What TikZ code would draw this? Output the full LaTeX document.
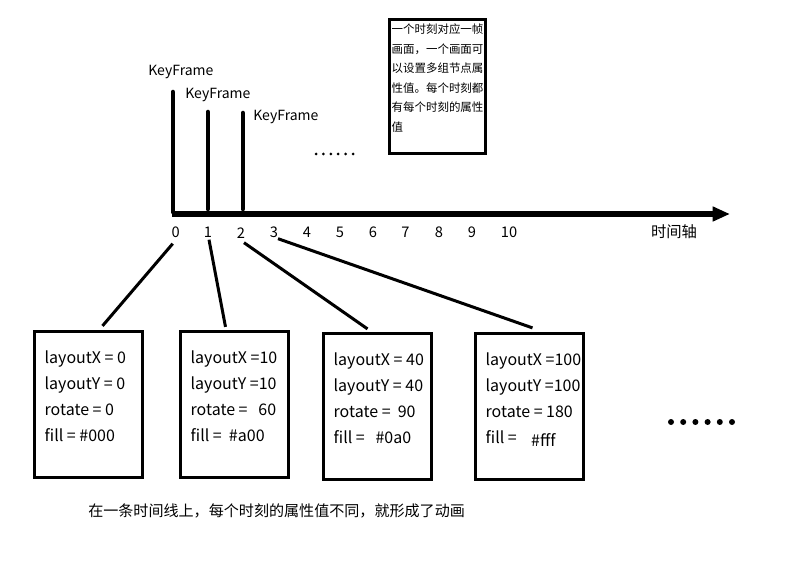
\documentclass[tikz,border=0pt]{standalone}
\usepackage{fontspec}
\setmainfont{Noto Sans CJK SC}
\usetikzlibrary{arrows.meta,positioning,calc}

\begin{document}
\begin{tikzpicture}[x=0.75pt,y=-0.75pt,
    kbox/.style={draw, line width=2.4pt, minimum width=81pt, minimum height=109.5pt},
    kval/.style={align=left, inner sep=0pt, font=\fontsize{12}{19.5}\selectfont},
    kbar/.style={line width=3.4pt, line cap=round},
    klabel/.style={anchor=west, inner sep=0pt, font=\fontsize{10.5}{12}\selectfont},
    tick/.style={inner sep=1pt, font=\fontsize{11}{13}\selectfont},
    link/.style={line width=2.25pt}]
    \useasboundingbox (0,0) rectangle (810,566);

    % time axis
    \coordinate (o) at (172,214);
    \coordinate (tip) at (730,214);
    \draw[line width=3.9pt, -{Triangle[length=13pt,width=10.5pt]}] (o) -- (tip);
    \node[tick, font=\fontsize{11.5}{13}\selectfont] (axis) at (674,232) {时间轴};
    \foreach \i/\x in {0/175.7,1/208,2/241,3/274,4/307,5/340,6/373,7/405.5,8/439,9/472,10/509}
        \node[tick] (t\i) at (\x,232.7) {\i};

    % key frames
    \coordinate (k0) at (173,212);
    \coordinate (k1) at (208,209);
    \coordinate (k2) at (243,209);
    \draw[kbar] (k0) -- ++(0,-120);
    \draw[kbar] (k1) -- ++(0,-97);
    \draw[kbar] (k2) -- ++(0,-96);
    \node[klabel] (kf0) at (148,72) {KeyFrame};
    \node[klabel] (kf1) at (185,95) {KeyFrame};
    \node[klabel] (kf2) at (253,117) {KeyFrame};
    \foreach \i in {0,...,5}
        \fill (316+7.4*\i,154) circle (1.5);

    % note
    \node[draw, line width=2.4pt, minimum width=72pt, minimum height=100.5pt] (note) at (437.5,86.5) {};
    \node[anchor=north west, inner sep=0pt, align=left, font=\fontsize{8.6}{14.6}\selectfont]
        (notetext) at ($(note.north west)+(3.5,6)$)
        {一个时刻对应一帧\\画面，一个画面可\\以设置多组节点属\\性值。每个时刻都\\有每个时刻的属性\\值};

    % frame values
    \node[kbox] (b0) at (88.5,404.5) {};
    \node[kbox] (b1) at (234.5,404.5) {};
    \node[kbox] (b2) at (377.5,406.5) {};
    \node[kbox] (b3) at (529.5,406.5) {};
    \node[kval, anchor=north west] (v0) at ($(b0.north west)+(11.5,21)$)
        {layoutX = 0\\layoutY = 0\\rotate = 0\\fill = \#000};
    \node[kval, anchor=north west] (v1) at ($(b1.north west)+(11.5,21)$)
        {layoutX =10\\layoutY =10\\rotate = \ \ 60\\fill = \ \#a00};
    \node[kval, anchor=north west] (v2) at ($(b2.north west)+(11.5,21)$)
        {layoutX = 40\\layoutY = 40\\rotate = \ 90\\fill = \ \ \#0a0};
    \node[kval, anchor=north west] (v3) at ($(b3.north west)+(11.5,21)$)
        {layoutX =100\\layoutY =100\\rotate = 180\\fill = \ \ \ \raisebox{-2pt}{\#fff}};
    \foreach \i in {0,...,5}
        \fill (671+12.2*\i,422) circle (3);

    % links
    \draw[link] ($(t0)+(-3,11)$) -- ($(b0.north)+(14,-4)$);
    \draw[link] ($(t1)+(1,7)$) -- ($(b1.north)+(-9,-3)$);
    \draw[link] ($(t2)+(3,10)$) -- ($(b2.north)+(-10,-3)$);
    \draw[link] ($(t3)+(4,6)$) -- ($(b3.north)+(3,-4)$);

    \node[anchor=west, inner sep=0pt, font=\fontsize{11.3}{13}\selectfont] (caption) at (88,511)
        {在一条时间线上，每个时刻的属性值不同，就形成了动画};
\end{tikzpicture}
\end{document}
